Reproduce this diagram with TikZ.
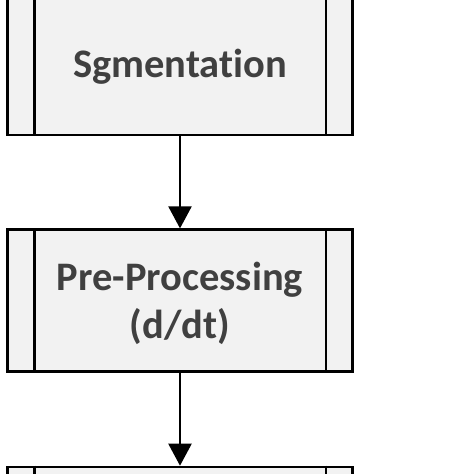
\documentclass[tikz,border=0pt]{standalone}
\usepackage{fontspec}
\setmainfont[Ligatures=NoCommon]{Carlito}
\usetikzlibrary{calc,arrows.meta}
\definecolor{boxfill}{HTML}{F2F2F2}
\definecolor{txt}{HTML}{404040}
\tikzset{
  procbox/.style={draw=black, line width=2.2pt, fill=boxfill, minimum width=345pt, minimum height=142pt, inner sep=0pt},
  proctext/.style={align=center, inner sep=0pt, font=\fontsize{40.5}{47.5}\selectfont\bfseries, text=txt},
  flow/.style={line width=2.2pt, -{Triangle[width=23pt,length=22pt]}}
}
\newcommand{\sidebars}[1]{%
  \draw[line width=2.2pt] ($(#1.north west)+(28pt,0)$) -- ($(#1.south west)+(28pt,0)$);
  \draw[line width=2.2pt] ($(#1.north east)+(-28pt,0)$) -- ($(#1.south east)+(-28pt,0)$);
}
\begin{document}
\begin{tikzpicture}[x=1pt,y=1pt]
\useasboundingbox (0,0) rectangle (474,-474);
\clip (0,0) rectangle (474,-474);
\node[procbox] (seg) at (180,-64) {};
\sidebars{seg}
\node[proctext] (segt) at ($(seg.center)+(0,-3)$) {Sgmentation};
\node[procbox] (pre) at (180,-300.5) {};
\sidebars{pre}
\node[proctext] (pret) at ($(pre.center)+(0,-3)$) {Pre-Processing\\(d/dt)};
\node[procbox, anchor=north] (next) at (180,-465.7) {};
\sidebars{next}
\draw[flow] (seg.south) -- (pre.north);
\draw[flow] (pre.south) -- (next.north);
\end{tikzpicture}
\end{document}
